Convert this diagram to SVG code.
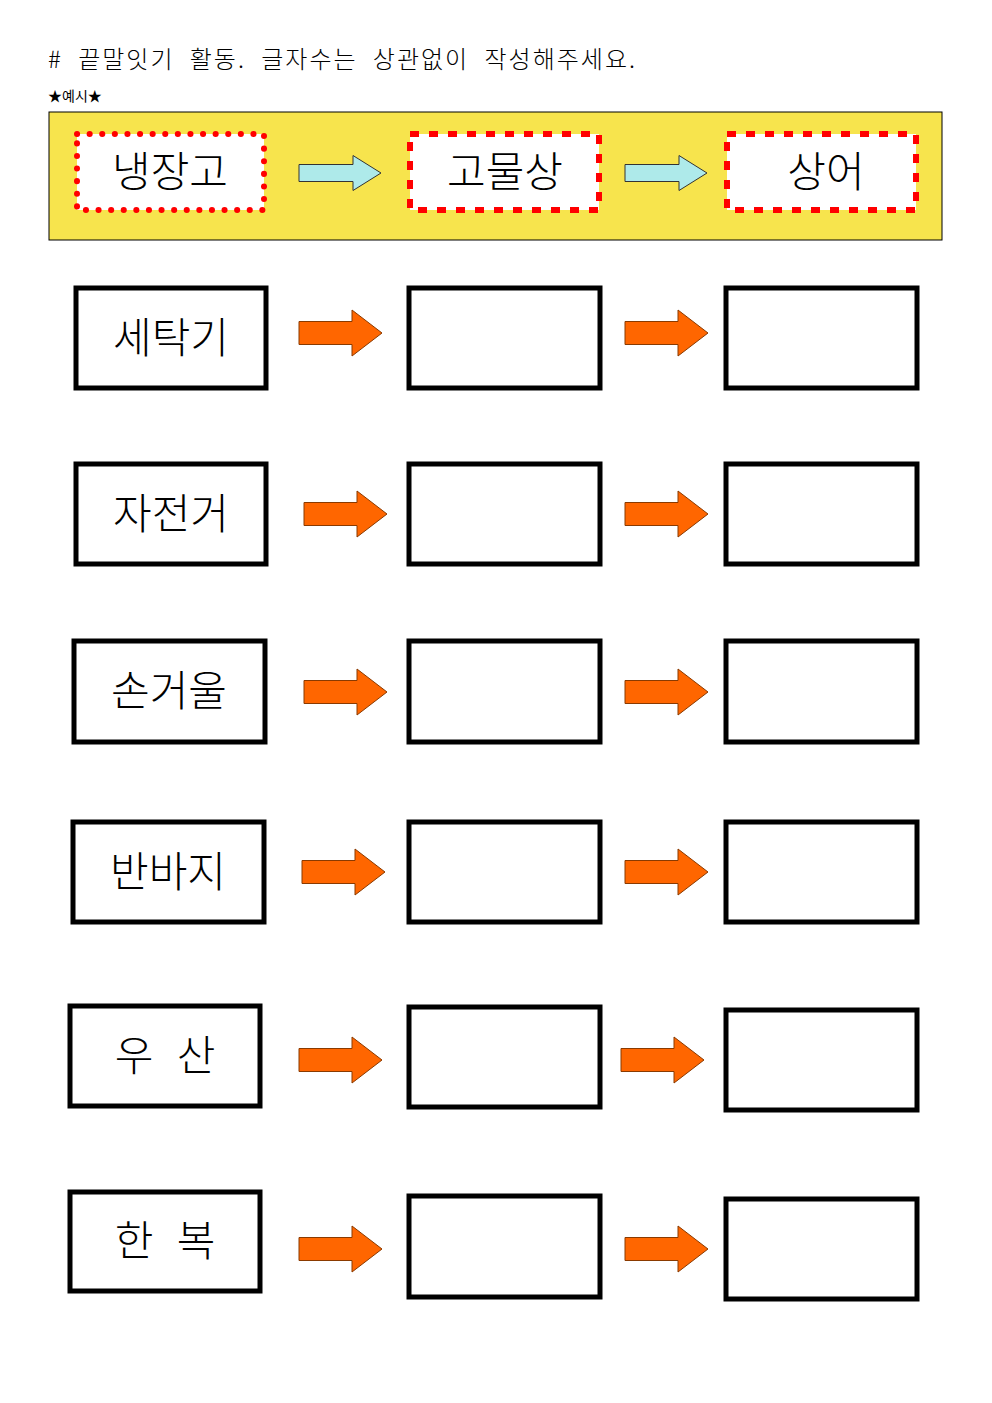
<svg xmlns="http://www.w3.org/2000/svg" width="992" height="1403" viewBox="0 0 992 1403">
<style>
text{font-family:"Noto Sans CJK KR","Noto Sans",sans-serif;fill:#000}
.b{fill:#fff;stroke:#000;stroke-width:5}
.w{font-size:42px;text-anchor:middle;font-weight:300}
.oa{fill:#ff6600;stroke:#8a3a00;stroke-width:1}
.ca{fill:#aeeaea;stroke:#333;stroke-width:1}
</style>
<defs>
<path id="oa" d="M0,-11.5 H53 V-23 L83,0 L53,23 V11.5 H0 Z"/>
<path id="ca" d="M0,-8.5 H54 V-17.5 L82,0 L54,17.5 V8.5 H0 Z"/>
</defs>
<rect width="992" height="1403" fill="#fff"/>
<text x="48" y="68" font-size="24" font-weight="300" letter-spacing="2" word-spacing="8">#  끝말잇기  활동.  글자수는  상관없이  작성해주세요.</text>
<text x="48" y="101" font-size="14">★예시★</text>
<g id="example">
<rect x="49" y="112" width="893" height="128" fill="#f7e44d" stroke="#000" stroke-width="1"/>
<g id="ex1"><rect x="77" y="134" width="187" height="76" fill="#fff" stroke="#f00" stroke-width="6" stroke-dasharray="0.1 12.5" stroke-linecap="round"/><text class="w" x="170" y="187" font-size="36">냉장고</text></g>
<g id="ex2"><rect x="410" y="134" width="189" height="76" fill="#fff" stroke="#f00" stroke-width="6" stroke-dasharray="9 10"/><text class="w" x="505" y="187" font-size="36">고물상</text></g>
<g id="ex3"><rect x="727" y="134" width="189" height="76" fill="#fff" stroke="#f00" stroke-width="6" stroke-dasharray="9 10"/><text class="w" x="826" y="187" font-size="36">상어</text></g>
</g>
<g id="connectors">
<use href="#ca" class="ca" x="299" y="173"/>
<use href="#ca" class="ca" x="625" y="173"/>
<use href="#oa" class="oa" x="299" y="333"/><use href="#oa" class="oa" x="625" y="333"/>
<use href="#oa" class="oa" x="304" y="514"/><use href="#oa" class="oa" x="625" y="514"/>
<use href="#oa" class="oa" x="304" y="692"/><use href="#oa" class="oa" x="625" y="692"/>
<use href="#oa" class="oa" x="302" y="872"/><use href="#oa" class="oa" x="625" y="872"/>
<use href="#oa" class="oa" x="299" y="1060"/><use href="#oa" class="oa" x="621" y="1060"/>
<use href="#oa" class="oa" x="299" y="1249"/><use href="#oa" class="oa" x="625" y="1249"/>
</g>
<g id="r1a"><rect class="b" x="76" y="288" width="190" height="100"/><text class="w" x="171" y="353">세탁기</text></g>
<g id="r1b"><rect class="b" x="409" y="288" width="191" height="100"/></g>
<g id="r1c"><rect class="b" x="726" y="288" width="191" height="100"/></g>
<g id="r2a"><rect class="b" x="76" y="464" width="190" height="100"/><text class="w" x="171" y="529">자전거</text></g>
<g id="r2b"><rect class="b" x="409" y="464" width="191" height="100"/></g>
<g id="r2c"><rect class="b" x="726" y="464" width="191" height="100"/></g>
<g id="r3a"><rect class="b" x="74" y="641" width="191" height="101"/><text class="w" x="169" y="706">손거울</text></g>
<g id="r3b"><rect class="b" x="409" y="641" width="191" height="101"/></g>
<g id="r3c"><rect class="b" x="726" y="641" width="191" height="101"/></g>
<g id="r4a"><rect class="b" x="73" y="822" width="191" height="100"/><text class="w" x="168" y="887">반바지</text></g>
<g id="r4b"><rect class="b" x="409" y="822" width="191" height="100"/></g>
<g id="r4c"><rect class="b" x="726" y="822" width="191" height="100"/></g>
<g id="r5a"><rect class="b" x="70" y="1006" width="190" height="100"/><text class="w" x="165" y="1071" word-spacing="14">우 산</text></g>
<g id="r5b"><rect class="b" x="409" y="1007" width="191" height="100"/></g>
<g id="r5c"><rect class="b" x="726" y="1010" width="191" height="100"/></g>
<g id="r6a"><rect class="b" x="70" y="1192" width="190" height="99"/><text class="w" x="165" y="1256" word-spacing="14">한 복</text></g>
<g id="r6b"><rect class="b" x="409" y="1196" width="191" height="101"/></g>
<g id="r6c"><rect class="b" x="726" y="1199" width="191" height="100"/></g>
</svg>
